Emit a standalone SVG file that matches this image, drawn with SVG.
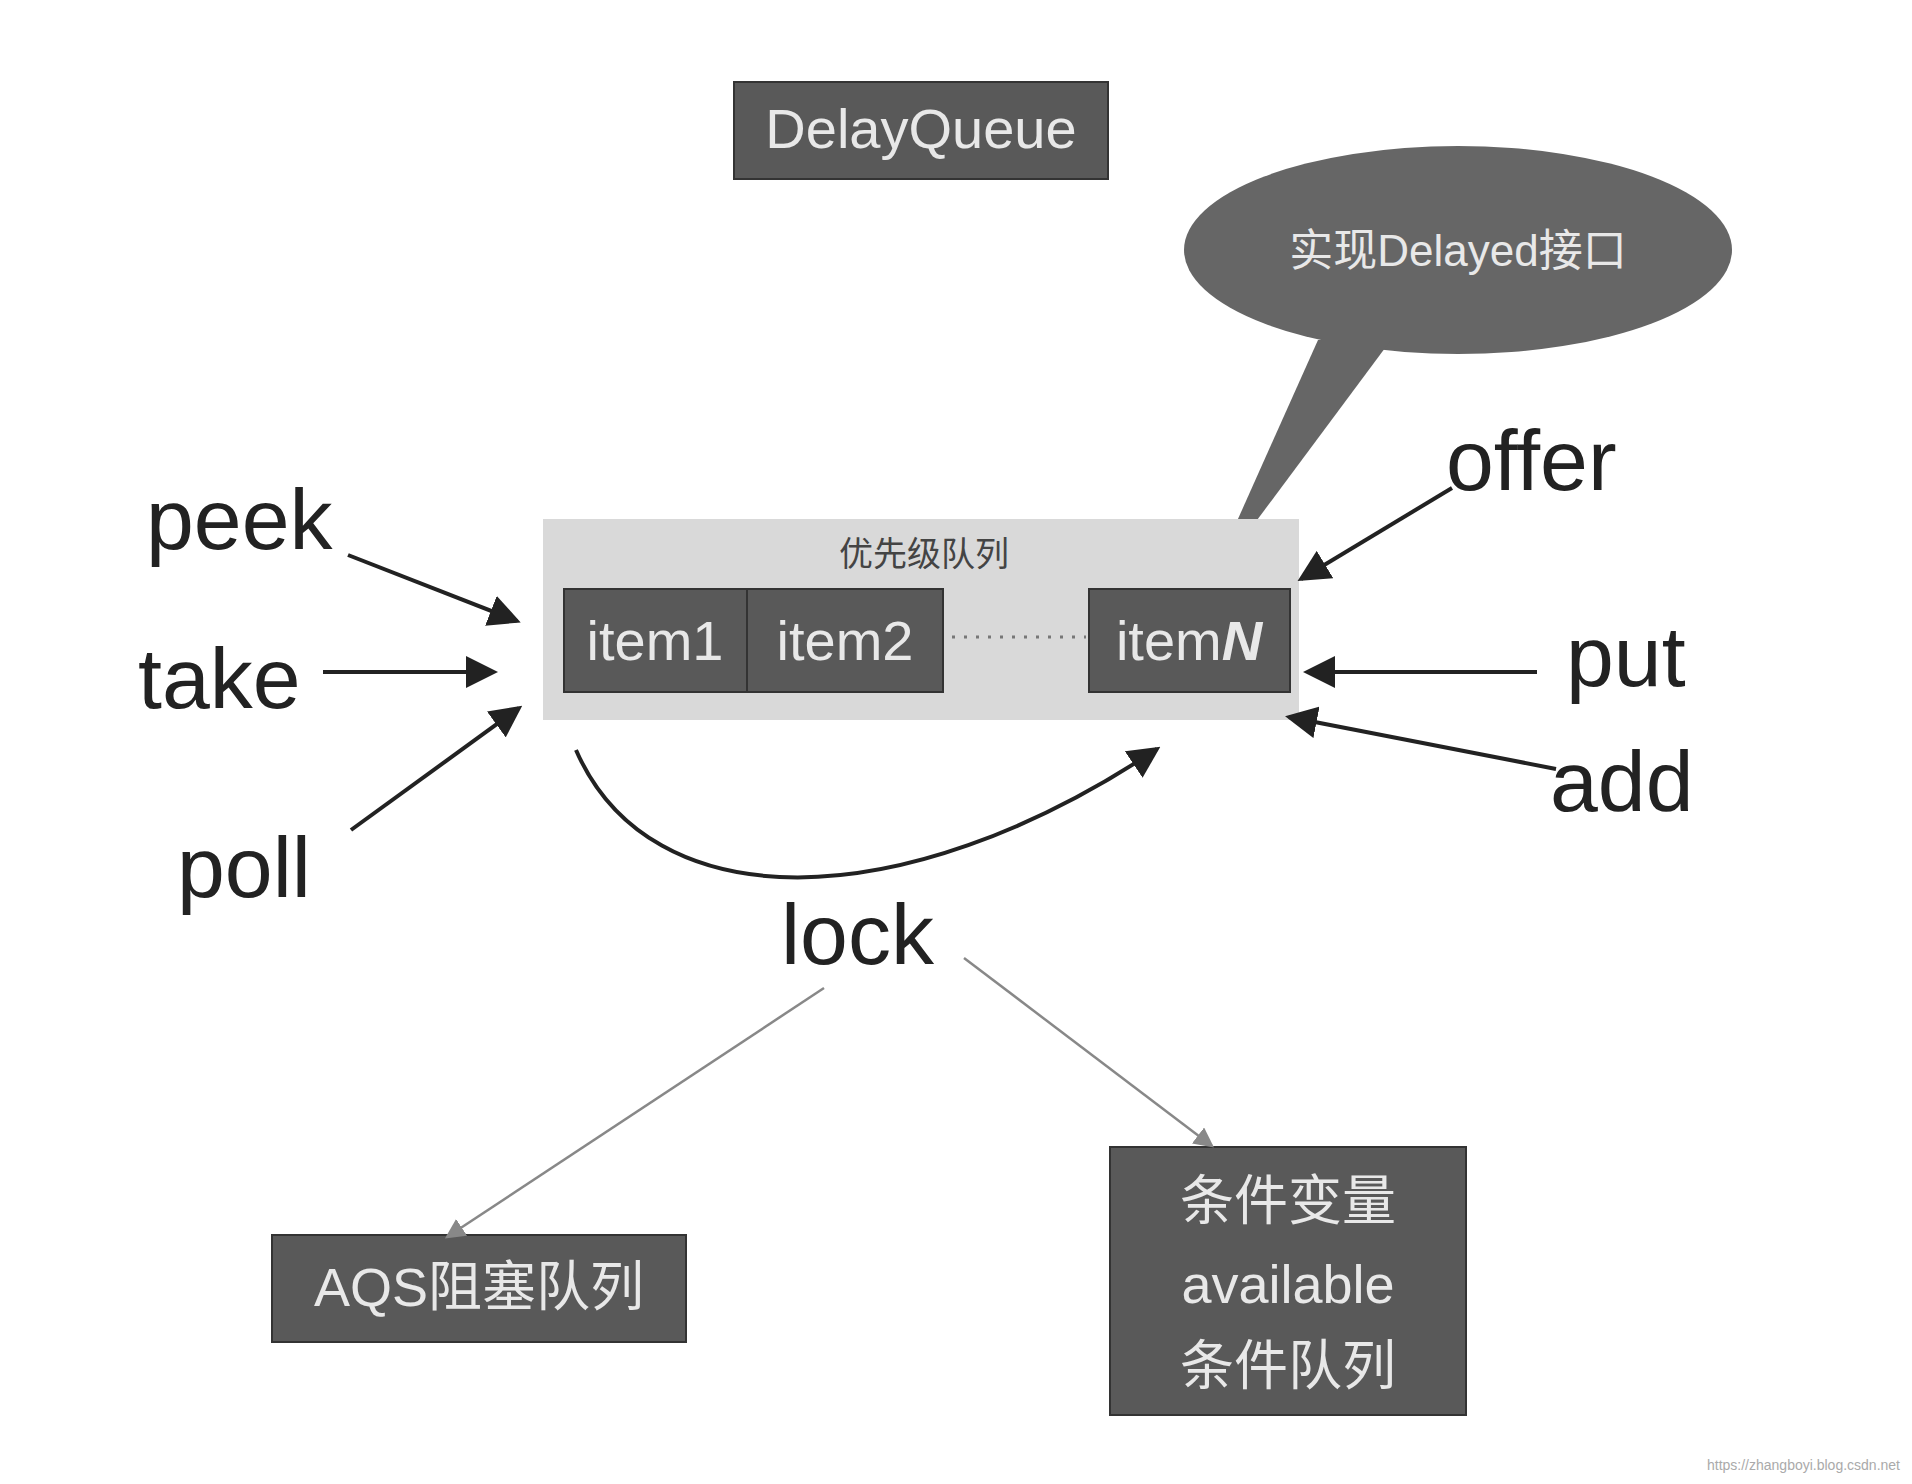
<svg xmlns="http://www.w3.org/2000/svg" width="1912" height="1484" viewBox="0 0 1912 1484">
<style>
.box{fill:#595959;stroke:#333;stroke-width:2}
.bt{fill:#e8e8e8;font-family:"Liberation Sans","Noto Sans CJK SC",sans-serif}
.lbl{fill:#222;font-family:"Liberation Sans",sans-serif;font-size:86px}
.ar{stroke:#222;stroke-width:4;fill:none;marker-end:url(#ah)}
.gr{stroke:#888;stroke-width:2.5;fill:none;marker-end:url(#gh)}
</style>
<defs>
<marker id="ah" markerWidth="8" markerHeight="8" refX="7" refY="4" orient="auto" markerUnits="strokeWidth"><path d="M0,0 L8,4 L0,8 Z" fill="#222"/></marker>
<marker id="gh" markerWidth="8" markerHeight="8" refX="7" refY="4" orient="auto" markerUnits="strokeWidth"><path d="M0,0 L8,4 L0,8 Z" fill="#888"/></marker>
</defs>
<rect width="1912" height="1484" fill="#fff"/>
<g id="delayqueue"><rect class="box" x="734" y="82" width="374" height="97"/><text class="bt" x="921" y="148" font-size="56" text-anchor="middle">DelayQueue</text></g>
<g id="callout"><ellipse cx="1458" cy="250" rx="274" ry="104" fill="#666"/><polygon points="1318,340 1391,340 1208,586" fill="#666"/><text class="bt" x="1458" y="266" font-size="44" text-anchor="middle" fill="#ddd">实现Delayed接口</text></g>
<g id="pq"><rect x="543" y="519" width="756" height="201" fill="#d9d9d9"/><text x="924" y="566" font-size="34" text-anchor="middle" fill="#444" font-family="'Noto Sans CJK SC',sans-serif">优先级队列</text></g>
<g id="item1"><rect class="box" x="564" y="589" width="183" height="103"/><text class="bt" x="655" y="660" font-size="56" text-anchor="middle">item1</text></g>
<g id="item2"><rect class="box" x="747" y="589" width="196" height="103"/><text class="bt" x="845" y="660" font-size="56" text-anchor="middle">item2</text></g>
<g id="itemN"><rect class="box" x="1089" y="589" width="201" height="103"/><text class="bt" x="1189" y="660" font-size="56" text-anchor="middle">item<tspan font-style="italic" font-weight="bold">N</tspan></text></g>
<g id="labels">
<text class="lbl" x="146" y="549">peek</text>
<text class="lbl" x="138" y="708">take</text>
<text class="lbl" x="177" y="897">poll</text>
<text class="lbl" x="1446" y="490">offer</text>
<text class="lbl" x="1566" y="686">put</text>
<text class="lbl" x="1550" y="811">add</text>
<text class="lbl" x="781" y="964">lock</text>
</g>
<g id="aqs"><rect class="box" x="272" y="1235" width="414" height="107"/><text class="bt" x="479" y="1306" font-size="54" text-anchor="middle">AQS阻塞队列</text></g>
<g id="cond"><rect class="box" x="1110" y="1147" width="356" height="268"/><text class="bt" x="1288" y="1220" font-size="54" text-anchor="middle">条件变量</text><text class="bt" x="1288" y="1303" font-size="54" text-anchor="middle">available</text><text class="bt" x="1288" y="1385" font-size="54" text-anchor="middle">条件队列</text></g>
<g id="connectors">
<line x1="952" y1="637" x2="1086" y2="637" stroke="#777" stroke-width="3" stroke-dasharray="3,9"/>
<line class="ar" x1="348" y1="555" x2="517" y2="621"/>
<line class="ar" x1="323" y1="672" x2="494" y2="672"/>
<line class="ar" x1="351" y1="830" x2="519" y2="708"/>
<line class="ar" x1="1452" y1="488" x2="1301" y2="579"/>
<line class="ar" x1="1537" y1="672" x2="1307" y2="672"/>
<line class="ar" x1="1556" y1="769" x2="1289" y2="717"/>
<path class="ar" d="M576 750 C 650 920, 900 920, 1157 749"/>
<line class="gr" x1="824" y1="988" x2="447" y2="1237"/>
<line class="gr" x1="964" y1="958" x2="1212" y2="1146"/>
</g>
<text x="1900" y="1470" font-size="14" fill="#aaa" text-anchor="end" font-family="'Liberation Sans',sans-serif">https://zhangboyi.blog.csdn.net</text>
</svg>
